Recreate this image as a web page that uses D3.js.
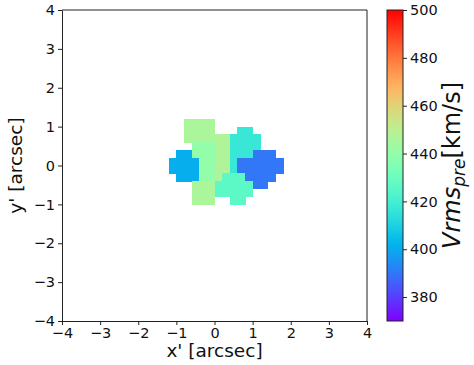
<!DOCTYPE html>
<html>
<head>
<meta charset="utf-8">
<script src="https://cdn.jsdelivr.net/npm/d3@7"></script>
<style>
  body { margin: 0; background: #fff; }
  svg { display: block; font-family: "DejaVu Sans", sans-serif; }
</style>
</head>
<body>
<div id="chart"></div>
<script>
// binned map: each character is a bin id, '.' is empty; cells are 0.2 arcsec
const cellSize = 0.2
const gridX0 = -1.2   // left edge of first column
const gridY0 = 1.2    // top edge of first row
const binMap = [
  '..AAAA.........',
  '..AAAA...DD....',
  '..AAAACCDDDD...',
  '...BBBCCDDDD...',
  '.FFBBBCCDDDEEE.',
  'FFFFBBCCDEEEEEE',
  'FFFFBBCCDEEEEEE',
  '.FFFBBCHHHEEEE.',
  '...GGGHHHHHEE..',
  '...GGGHHHHH....',
  '...GGG..HH.....'
]
const binIds = ['A', 'B', 'C', 'D', 'E', 'F', 'G', 'H']
const binVrms = [446, 440, 447, 417, 390, 401, 446, 426]

const axisTicks = [-4, -3, -2, -1, 0, 1, 2, 3, 4]
const cbarDomain = [370, 500]
const cbarTicks = [380, 400, 420, 440, 460, 480, 500]

const width = 474
const height = 365

// matplotlib 'rainbow'
const rainbow = t => {
  const r = Math.min(1, Math.abs(2 * t - 0.5))
  const g = Math.sin(Math.PI * t)
  const b = Math.cos(Math.PI * t / 2)
  return d3.rgb(r * 255, g * 255, b * 255).formatHex()
}

const svg = d3.select('#chart').append('svg')
  .attr('width', width)
  .attr('height', height)

const x = d3.scaleLinear().domain([-4, 4]).range([62, 367])
const y = d3.scaleLinear().domain([-4, 4]).range([321, 10])
const cnorm = d3.scaleLinear().domain(cbarDomain).range([0, 1]).clamp(true)
const color = v => rainbow(cnorm(v))

const vrmsOf = {}
binIds.forEach((id, i) => { vrmsOf[id] = binVrms[i] })

const cells = []
binMap.forEach((row, r) => {
  row.split('').forEach((ch, c) => {
    if (ch === '.') return
    cells.push({x0: gridX0 + c * cellSize, y0: gridY0 - r * cellSize, v: vrmsOf[ch]})
  })
})

svg.append('g')
  .selectAll('rect')
  .data(cells)
  .enter()
  .append('rect')
  .attr('x', d => x(d.x0))
  .attr('y', d => y(d.y0))
  .attr('width', d => x(d.x0 + cellSize) - x(d.x0) + 0.5)
  .attr('height', d => y(d.y0 - cellSize) - y(d.y0) + 0.5)
  .attr('fill', d => color(d.v))
  .attr('shape-rendering', 'crispEdges')

// axes
const xAxis = svg.append('g')
  .attr('transform', `translate(0,${y(-4)})`)
  .call(d3.axisBottom(x).tickValues(axisTicks).tickSize(4).tickPadding(3).tickSizeOuter(0))
const yAxis = svg.append('g')
  .attr('transform', `translate(${x(-4)},0)`)
  .call(d3.axisLeft(y).tickValues(axisTicks).tickSize(4).tickPadding(3).tickSizeOuter(0))

svg.append('line').attr('x1', x(-4)).attr('x2', x(4)).attr('y1', y(4)).attr('y2', y(4))
  .attr('stroke', '#222')
svg.append('line').attr('x1', x(4)).attr('x2', x(4)).attr('y1', y(4)).attr('y2', y(-4))
  .attr('stroke', '#222')

;[xAxis, yAxis].forEach(g => {
  g.selectAll('text').attr('font-size', 14.5).attr('fill', '#111')
    .attr('font-family', '"DejaVu Sans", sans-serif')
  g.selectAll('line, path').attr('stroke', '#222')
})

svg.append('text')
  .attr('x', x(0))
  .attr('y', 357)
  .attr('text-anchor', 'middle')
  .attr('font-size', 18.5)
  .attr('fill', '#111')
  .text("x' [arcsec]")

svg.append('text')
  .attr('transform', `translate(22,${y(0)}) rotate(-90)`)
  .attr('text-anchor', 'middle')
  .attr('font-size', 18.5)
  .attr('fill', '#111')
  .text("y' [arcsec]")

// colorbar
const cb = svg.append('g')
const cbX = 387
const cbW = 16
const cy = d3.scaleLinear().domain(cbarDomain).range([321, 10])

const grad = svg.append('defs').append('linearGradient')
  .attr('id', 'cbgrad')
  .attr('x1', 0).attr('y1', 1).attr('x2', 0).attr('y2', 0)
grad.selectAll('stop')
  .data(d3.range(0, 1.0001, 0.02))
  .enter()
  .append('stop')
  .attr('offset', d => d)
  .attr('stop-color', d => rainbow(d))

cb.append('rect')
  .attr('x', cbX).attr('y', cy(cbarDomain[1]))
  .attr('width', cbW).attr('height', cy(cbarDomain[0]) - cy(cbarDomain[1]))
  .attr('fill', 'url(#cbgrad)')
  .attr('stroke', '#222')
  .attr('stroke-width', 1)

const cAxis = cb.append('g')
  .attr('transform', `translate(${cbX + cbW},0)`)
  .call(d3.axisRight(cy).tickValues(cbarTicks).tickSize(4).tickPadding(3).tickSizeOuter(0))
cAxis.select('.domain').remove()
cAxis.selectAll('text').attr('font-size', 14.5).attr('fill', '#111')
  .attr('font-family', '"DejaVu Sans", sans-serif')
cAxis.selectAll('line').attr('stroke', '#222')

const clabel = svg.append('text')
  .attr('transform', `translate(460,${cy(435)}) rotate(-90)`)
  .attr('text-anchor', 'middle')
  .attr('font-size', 24)
  .attr('fill', '#111')
clabel.append('tspan').attr('font-style', 'italic').text('Vrms')
clabel.append('tspan').attr('font-style', 'italic').attr('font-size', 17)
  .attr('dy', 5).text('pre')
clabel.append('tspan').attr('dy', -5).text('[km/s]')
</script>
</body>
</html>
